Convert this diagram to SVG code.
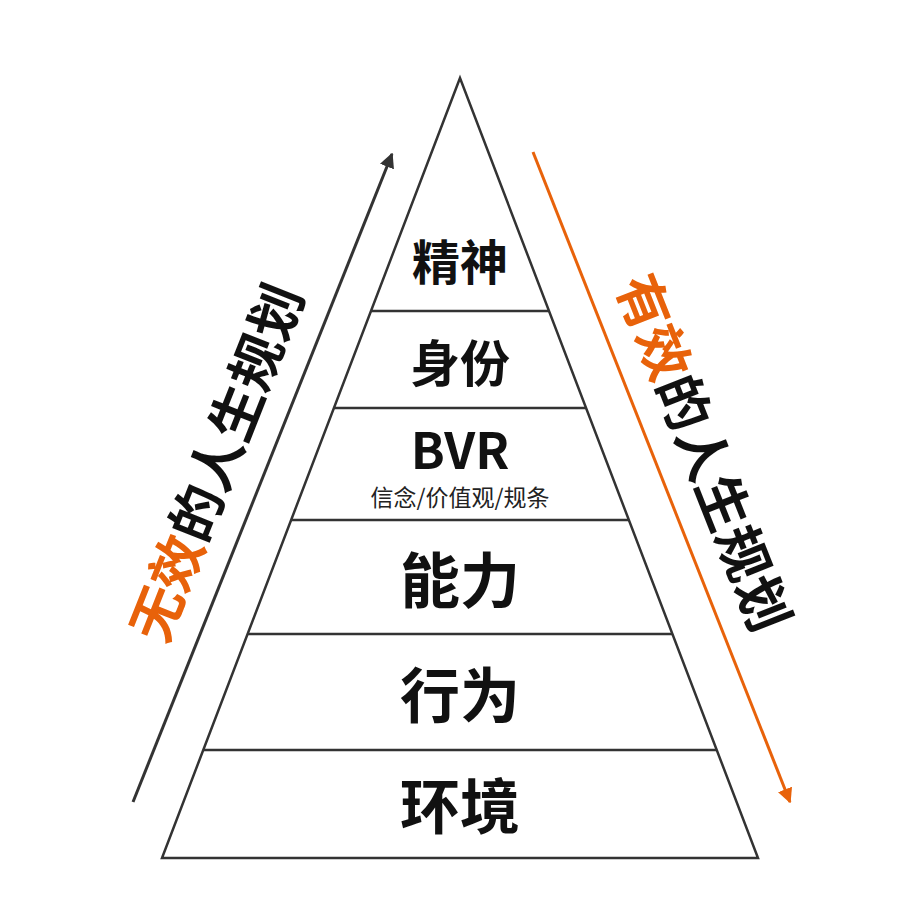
<svg xmlns="http://www.w3.org/2000/svg" width="899" height="899" viewBox="0 0 899 899">
<style>
.ln{stroke:#333;stroke-width:2.5;fill:none}
.t{font-family:"Noto Sans CJK SC","Noto Sans",sans-serif;font-weight:bold;fill:#111;text-anchor:middle}
.s{font-family:"Noto Sans CJK SC",sans-serif;fill:#222;text-anchor:middle;font-size:23px}
.o{fill:#E8620A}
</style>
<defs>
<marker id="ad" viewBox="0 0 10 10" refX="9" refY="5" markerWidth="5" markerHeight="5" orient="auto"><path d="M0,0L10,5L0,10z" fill="#333"/></marker>
<marker id="ao" viewBox="0 0 10 10" refX="9" refY="5" markerWidth="5" markerHeight="5" orient="auto"><path d="M0,0L10,5L0,10z" fill="#E8620A"/></marker>
</defs>
<rect width="899" height="899" fill="#fff"/>
<g id="pyramid">
<path class="ln" d="M460,78L162,858H758Z"/>
<line class="ln" x1="371" y1="311" x2="549" y2="311"/>
<line class="ln" x1="334" y1="408" x2="586" y2="408"/>
<line class="ln" x1="291" y1="520" x2="629" y2="520"/>
<line class="ln" x1="248" y1="634" x2="673" y2="634"/>
<line class="ln" x1="204" y1="750" x2="716" y2="750"/>
</g>
<g id="n1"><text class="t" x="460" y="280" font-size="48">精神</text></g>
<g id="n2"><text class="t" x="460" y="382" font-size="50">身份</text></g>
<g id="n3"><text class="t" x="460" y="469" font-size="50">BVR</text><text class="s" x="460" y="506">信念/价值观/规条</text></g>
<g id="n4"><text class="t" x="460" y="603" font-size="60">能力</text></g>
<g id="n5"><text class="t" x="460" y="718" font-size="60">行为</text></g>
<g id="n6"><text class="t" x="460" y="829" font-size="60">环境</text></g>
<g id="connectors">
<line x1="133" y1="802" x2="392" y2="154" stroke="#333" stroke-width="3" marker-end="url(#ad)"/>
<line x1="533" y1="152" x2="790" y2="802" stroke="#E8620A" stroke-width="3" marker-end="url(#ao)"/>
</g>
<g id="label-left"><text class="t" transform="translate(235,470) rotate(-68.4)" font-size="54">
<tspan class="o">无效</tspan>的人生规划</text></g>
<g id="label-right"><text class="t" transform="translate(685,460) rotate(68.4)" font-size="54">
<tspan class="o">有效</tspan>的人生规划</text></g>
</svg>
